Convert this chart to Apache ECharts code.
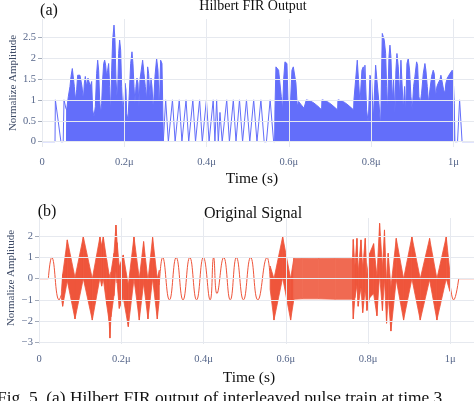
<!DOCTYPE html>
<html><head><meta charset="utf-8">
<script src="https://cdn.jsdelivr.net/npm/echarts@6/dist/echarts.min.js"></script>
<style>html,body{margin:0;padding:0;background:#fff;}#c{width:474px;height:401px;}</style>
</head><body><div id="c"></div>
<script>
// ---------- tick values / labels ----------
const xTickValues = [0, 0.2, 0.4, 0.6, 0.8, 1.0];
const xTickLabels = ['0', '0.2\u03bc', '0.4\u03bc', '0.6\u03bc', '0.8\u03bc', '1\u03bc'];
const yTickValuesA = [0, 0.5, 1, 1.5, 2, 2.5];
const yTickLabelsA = ['0', '0.5', '1', '1.5', '2', '2.5'];
const yTickValuesB = [-3, -2, -1, 0, 1, 2];
const yTickLabelsB = ['\u22123', '\u22122', '\u22121', '0', '1', '2'];

// ---------- (a) Hilbert FIR output : [time(us), amplitude] ----------
const blueStart = [[0,0],[0.0316,0],[0.0325,1],[0.035,1],[0.046,0],[0.0515,0],[0.0535,1],[0.058,0.8],[0.0599,0.76]];
const blueDenseA = [[0.0595,0],[0.0599,0.76],[0.0640,1.08],[0.0680,1.32],[0.0705,1.56],[0.0737,1.75],[0.0761,1.71],[0.0786,1.32],[0.0810,1.00],[0.0843,1.24],[0.0867,1.59],[0.0899,1.63],[0.0923,1.59],[0.0948,1.63],[0.0972,1.32],[0.1005,1.00],[0.1029,1.40],[0.1053,1.56],[0.1085,1.32],[0.1118,1.52],[0.1150,1.52],[0.1175,1.32],[0.1207,1.44],[0.1231,0.76],[0.1264,0.60],[0.1296,0.84],[0.1328,1.63],[0.1353,1.95],[0.1377,1.71],[0.1401,1.00],[0.1426,0.68],[0.1450,0.92],[0.1474,1.48],[0.1499,1.87],[0.1523,1.95],[0.1547,1.83],[0.1571,1.56],[0.1596,1.71],[0.1620,1.87],[0.1644,1.32],[0.1669,0.68],[0.1693,1.71],[0.1717,2.43],[0.1750,2.79],[0.1774,2.43],[0.1798,1.48],[0.1831,0.96],[0.1863,2.11],[0.1887,2.43],[0.1912,2.19],[0.1936,1.32],[0.1960,0.76],[0.1993,1.00],[0.2017,1.40],[0.2041,1.24],[0.2058,0.68],[0.2090,0.52],[0.2122,1.16],[0.2155,1.87],[0.2187,2.15],[0.2211,1.87],[0.2236,1.32],[0.2260,0.92],[0.2284,1.32],[0.2309,1.52],[0.2333,1.40],[0.2357,0.84],[0.2381,1.48],[0.2422,1.48],[0.2446,1.95],[0.2479,1.63],[0.2511,1.32],[0.2543,1.00],[0.2568,1.79],[0.2592,1.63],[0.2624,1.08],[0.2649,1.52],[0.2673,1.32],[0.2705,0.76],[0.2746,1.56],[0.2786,1.99],[0.2819,1.71],[0.2851,0.76],[0.2883,1.95],[0.2916,1.87],[0.2932,1.00],[0.2948,0]];
const blueTrain = [[0.2948,0],[0.3006,1],[0.3071,0],[0.3106,0],[0.3171,1],[0.3236,0],[0.3271,0],[0.3336,1],[0.3401,0],[0.3436,0],[0.3501,1],[0.3566,0],[0.3601,0],[0.3666,1],[0.3731,0],[0.3766,0],[0.3831,1],[0.3896,0],[0.3931,0],[0.3996,1],[0.4061,0],[0.4096,0],[0.4161,1],[0.4203,0],[0.4245,1],[0.4285,0],[0.4326,0.7],[0.4380,0],[0.4425,0],[0.4490,1],[0.4555,0],[0.4585,0],[0.4650,1],[0.4715,0],[0.4735,0],[0.4800,1],[0.4875,0],[0.4895,0],[0.4970,1],[0.5050,0],[0.5065,0],[0.5145,1],[0.5225,0],[0.5240,0],[0.5320,1],[0.5400,0],[0.5455,0],[0.5545,1],[0.5630,0],[0.5654,0]];
const blueDenseB = [[0.5654,0],[0.5662,0.76],[0.5686,1.79],[0.5719,1.83],[0.5751,1.71],[0.5784,1.75],[0.5816,1.08],[0.5848,0.76],[0.5873,1.48],[0.5905,1.91],[0.5929,1.95],[0.5954,1.87],[0.5978,1.00],[0.6010,0.92],[0.6043,1.00],[0.6075,1.71],[0.6108,1.79],[0.6140,1.79],[0.6172,1.40],[0.6205,0.84],[0.6237,0.96],[0.6302,0.88],[0.6367,0.80],[0.6415,0.76],[0.6424,1.00],[0.6505,0.98],[0.6586,0.94],[0.6667,0.88],[0.6748,0.81],[0.6796,0.76],[0.6804,1.00],[0.6885,0.98],[0.6966,0.94],[0.7047,0.88],[0.7128,0.81],[0.7185,0.76],[0.7193,1.00],[0.7274,0.98],[0.7355,0.94],[0.7436,0.88],[0.7517,0.81],[0.7574,0.76],[0.7582,1.00],[0.7630,1.00],[0.7663,1.95],[0.7695,1.91],[0.7728,0.92],[0.7776,1.71],[0.7809,1.79],[0.7830,1.32],[0.7849,1.83],[0.7890,0.76],[0.7930,0.44],[0.7971,1.59],[0.8011,1.48],[0.8052,0.52],[0.8109,1.83],[0.8149,1.87],[0.8190,0.92],[0.8230,0.36],[0.8271,2.59],[0.8295,2.51],[0.8319,2.43],[0.8352,2.11],[0.8376,1.32],[0.8400,0.76],[0.8433,2.03],[0.8457,2.31],[0.8481,2.03],[0.8514,1.00],[0.8546,1.48],[0.8578,0.68],[0.8602,1.71],[0.8627,2.11],[0.8659,1.79],[0.8691,1.08],[0.8724,1.95],[0.8748,1.91],[0.8781,0.76],[0.8813,1.32],[0.8837,0.68],[0.8870,1.87],[0.8902,1.99],[0.8934,1.71],[0.8967,1.08],[0.8999,0.76],[0.9032,1.32],[0.9064,1.56],[0.9105,1.91],[0.9129,1.83],[0.9161,1.08],[0.9194,0.92],[0.9226,1.16],[0.9267,1.63],[0.9307,1.87],[0.9331,1.71],[0.9364,1.32],[0.9396,0.92],[0.9428,1.24],[0.9469,1.56],[0.9509,1.71],[0.9534,1.63],[0.9566,1.08],[0.9599,1.32],[0.9631,1.40],[0.9672,1.48],[0.9696,1.59],[0.9728,1.56],[0.9761,1.24],[0.9793,1.16],[0.9817,1.40],[0.9850,1.52],[0.9874,1.48],[0.9915,1.63],[0.9939,1.67],[0.9971,1.71],[1.0004,1.32],[1.0020,0.92],[1.0036,0]];
const blueEnd = [[1.0036,0],[1.0100,0],[1.0150,1],[1.0210,0],[1.05,0]];

// ---------- (b) Original signal ----------
const redFlatStart = [[0,0],[0.0227,0]];
const redFlatEnd = [[1.0204,0],[1.0576,0]];
const redSine1 = [[0.0227,0],[0.031,1],[0.049,-1],[0.0545,-0.75]];
const redSine2 = [[0.2924,-0.3],[0.3006,1],[0.3171,-1],[0.3336,1],[0.3501,-1],[0.3666,1],[0.3831,-1],[0.3996,1],[0.4161,-1],[0.4245,1],[0.4326,-0.7],[0.449,1],[0.465,-1],[0.480,1],[0.497,-1],[0.5145,1],[0.532,-1],[0.5545,1],[0.562,0.05]];
const redSine3 = [[0.999,-0.15],[1.008,-1],[1.0204,0]];
// dense parts: [time, upper envelope, lower envelope]
const redBand1 = [[0.0545,-0.6,-0.9],[0.0575,0.2,-1.3],[0.0688,1.83,-0.1],[0.0875,0.05,-1.9],[0.1077,1.98,0.0],[0.1296,0.0,-1.95],[0.1482,1.98,0.05],[0.1523,1.55,-0.35],[0.1563,1.98,0.0],[0.1644,0.9,-1.2],[0.1705,0.2,-2.0],[0.1725,-0.4,-2.8],[0.1750,0.3,-1.8],[0.1823,1.2,-0.8],[0.1871,2.53,0.35],[0.1900,1.7,-0.2],[0.1952,0.55,-1.4],[0.2049,1.12,-0.9],[0.2171,-0.3,-2.26],[0.2309,1.98,0.0],[0.2438,0.0,-1.95],[0.2543,1.75,-0.2],[0.2649,-0.1,-1.9],[0.2762,1.95,0.0],[0.2876,0.0,-1.9],[0.2924,0.4,-1.0]];
const redBand2 = [[0.5620,0.6,-0.5],[0.5713,0.0,-1.95],[0.5924,1.98,0.05],[0.6118,0.0,-1.95],[0.6197,0.97,-0.97]];
const redPlateau = [[0.6197,0.97,-0.97],[0.6400,0.95,-0.95],[0.6800,0.97,-0.95],[0.7200,0.95,-0.97],[0.7625,0.97,-0.97]];
const redBand3 = [[0.7625,0.97,-0.97],[0.7641,1.85,-1.9],[0.7680,0.6,-0.9],[0.7730,1.9,-0.3],[0.7760,0.3,-1.3],[0.7828,1.83,-0.4],[0.7870,0.5,-1.6],[0.7932,1.9,-0.5],[0.7973,0.2,-1.5],[0.8040,1.2,-0.9],[0.8135,1.65,-0.7],[0.8216,0.1,-1.75],[0.8281,2.61,0.2],[0.8350,0.5,-1.5],[0.8400,2.3,0.0],[0.8450,-0.2,-2.1],[0.8490,1.2,-0.8],[0.8556,-0.4,-2.47],[0.8686,1.9,-0.05],[0.8864,0.0,-1.95],[0.9066,1.98,0.0],[0.9269,0.0,-1.95],[0.9496,1.9,-0.05],[0.9674,0.0,-1.95],[0.9901,1.98,0.0],[0.9990,0.3,-0.6]];

// ---------- styling ----------
const BLUE = '#636EFA', RED = '#EF553B', GRID = '#E6E9EF', TICK = '#a3abb9', LABEL = '#56668a';
const SERIF = 'Liberation Serif';

function xAxisCfg(gi, max) {
  return {
    type: 'value', gridIndex: gi, min: 0, max: max,
    splitLine: {show: false}, axisLine: {show: false},
    axisTick: {show: true, length: 4, customValues: xTickValues, lineStyle: {color: TICK}},
    axisLabel: {customValues: xTickValues, margin: 10, fontFamily: SERIF, fontSize: 10.5, color: LABEL,
      formatter: v => { const i = xTickValues.findIndex(t => Math.abs(t - v) < 1e-9); return i >= 0 ? xTickLabels[i] : ''; }}
  };
}
function yAxisCfg(gi, min, max, vals, labs) {
  return {
    type: 'value', gridIndex: gi, min: min, max: max,
    splitLine: {show: false}, axisLine: {show: false},
    axisTick: {show: true, length: 4, customValues: vals, lineStyle: {color: TICK}},
    axisLabel: {customValues: vals, margin: 6, fontFamily: SERIF, fontSize: 10.5, color: LABEL,
      formatter: v => { const i = vals.findIndex(t => Math.abs(t - v) < 1e-9); return i >= 0 ? labs[i] : ''; }}
  };
}
function gridLines(gi, yVals) {
  return {
    type: 'line', xAxisIndex: gi, yAxisIndex: gi, data: [[0, 0]], symbol: 'none',
    lineStyle: {opacity: 0}, silent: true, z: 1,
    markLine: {silent: true, symbol: ['none', 'none'], label: {show: false}, animation: false,
      lineStyle: {color: GRID, width: 1, type: 'solid'}, emphasis: {disabled: true},
      data: yVals.map(v => ({yAxis: v})).concat(xTickValues.map(v => ({xAxis: v})))}
  };
}
function line(gi, data, color, opts) {
  return Object.assign({
    type: 'line', xAxisIndex: gi, yAxisIndex: gi, data: data, symbol: 'none', showSymbol: false,
    lineStyle: {color: color, width: 1}, itemStyle: {color: color}, silent: true, z: 2
  }, opts || {});
}
// filled band between upper and lower envelopes, drawn segment by segment through the axis scales
function band(rows, fill) {
  return {
    type: 'custom', xAxisIndex: 1, yAxisIndex: 1, data: rows, silent: true, z: 2,
    encode: {x: 0, y: [1, 2]},
    renderItem: function (params, api) {
      const i = params.dataIndex;
      if (i >= rows.length - 1) return null;
      const a = rows[i], b = rows[i + 1];
      const pts = [api.coord([a[0], a[1]]), api.coord([b[0], b[1]]), api.coord([b[0], b[2]]), api.coord([a[0], a[2]])];
      return {type: 'polygon', shape: {points: pts}, style: {fill: fill, stroke: fill, lineWidth: 0.8}};
    }
  };
}

const series = [
  gridLines(0, yTickValuesA),
  line(0, blueDenseA, BLUE, {areaStyle: {color: BLUE, opacity: 1}}),
  line(0, blueDenseB, BLUE, {areaStyle: {color: BLUE, opacity: 1}}),
  line(0, blueStart, BLUE),
  line(0, blueTrain, BLUE),
  line(0, blueEnd, BLUE),
  gridLines(1, yTickValuesB),
  line(1, redFlatStart, RED),
  line(1, redFlatEnd, RED),
  line(1, redSine1, RED, {smooth: 0.5}),
  line(1, redSine2, RED, {smooth: 0.5}),
  line(1, redSine3, RED, {smooth: 0.5}),
  band(redBand1, RED),
  band(redBand2, RED),
  band(redPlateau, '#F06A52'),
  band(redBand3, RED)
];

const T = (x, y, text, size) => ({
  type: 'text', x: x, y: y, silent: true,
  style: {text: text, font: size + 'px "' + SERIF + '"', fill: '#111', align: 'center', verticalAlign: 'middle'}
});

const option = {
  animation: false,
  backgroundColor: '#ffffff',
  grid: [
    {left: 42, right: 0, top: 19, height: 128, outerBoundsMode: 'none', containLabel: false},
    {left: 39, right: 0, top: 218, height: 126, outerBoundsMode: 'none', containLabel: false}
  ],
  xAxis: [xAxisCfg(0, 1.05), xAxisCfg(1, 1.0576)],
  yAxis: [yAxisCfg(0, -0.127, 2.935, yTickValuesA, yTickLabelsA), yAxisCfg(1, -3.08, 2.863, yTickValuesB, yTickLabelsB)],
  series: series,
  graphic: [
    T(49, 11, '(a)', 16),
    T(253, 6, 'Hilbert FIR Output', 14),
    T(252, 179, 'Time (s)', 15.5),
    {type: 'text', x: 13, y: 83, rotation: Math.PI / 2, silent: true,
      style: {text: 'Normalize Amplitude', font: '11px "' + SERIF + '"', fill: '#3d4a66', align: 'center', verticalAlign: 'middle'}},
    T(47, 212, '(b)', 16),
    T(253, 214, 'Original Signal', 16),
    T(249, 377.5, 'Time (s)', 15.5),
    {type: 'text', x: 11, y: 278, rotation: Math.PI / 2, silent: true,
      style: {text: 'Normalize Amplitude', font: '11px "' + SERIF + '"', fill: '#3d4a66', align: 'center', verticalAlign: 'middle'}},
    {type: 'text', x: -3, y: 390, silent: true,
      style: {text: 'Fig. 5. (a) Hilbert FIR output of interleaved pulse train at time 3 ...', font: '17.4px "' + SERIF + '"', fill: '#111', align: 'left', verticalAlign: 'top'}}
  ]
};
const chart = echarts.init(document.getElementById('c'), null, {renderer: 'canvas'});
chart.setOption(option);
</script></body></html>
